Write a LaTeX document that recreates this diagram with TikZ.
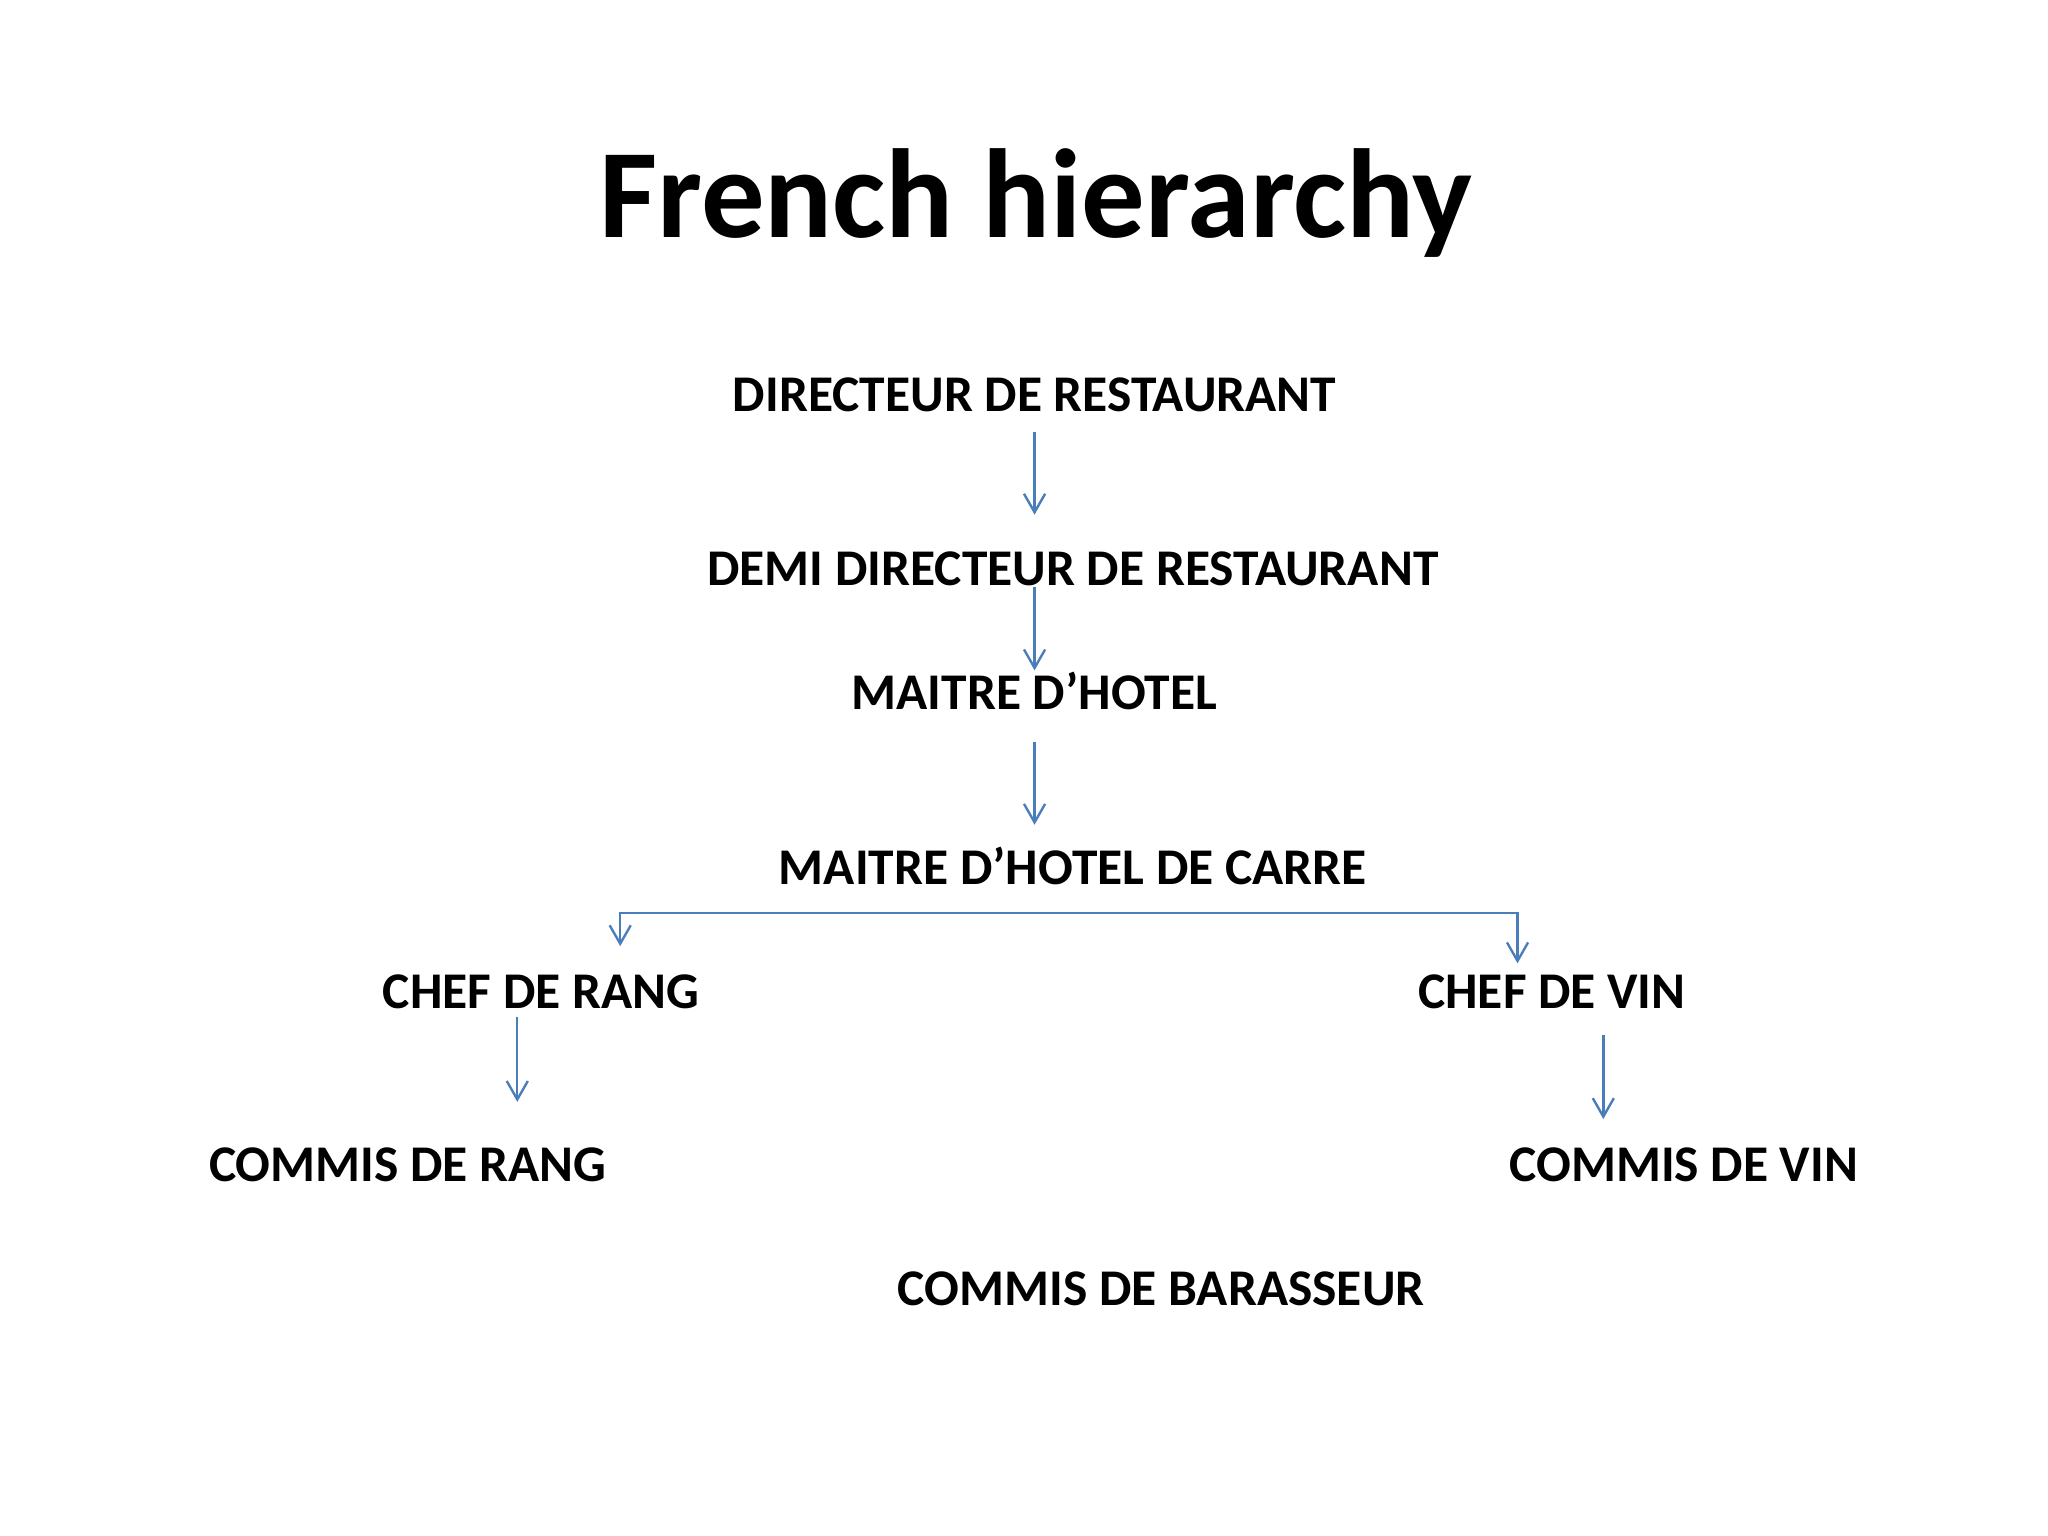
\documentclass[tikz,border=0pt]{standalone}
\usepackage{fontspec}
\setmainfont{Carlito}
\usetikzlibrary{arrows.meta}
\definecolor{conn}{HTML}{4A7EBB}
\begin{document}
\begin{tikzpicture}[x=1pt,y=-1pt,
  lbl/.style={anchor=base,inner sep=0pt,font=\fontsize{39}{46}\selectfont\bfseries},
  ttl/.style={anchor=base,inner sep=0pt,font=\fontsize{96}{106}\selectfont\bfseries},
  arr/.style={draw=conn,line width=1.8pt,-{Straight Barb[length=14pt,width=16pt,line width=1.8pt]}},
  arr2/.style={draw=conn,line width=1.8pt,{Straight Barb[length=14pt,width=16pt,line width=1.8pt]}-{Straight Barb[length=14pt,width=16pt,line width=1.8pt]}}]
\useasboundingbox[fill=white] (0,0) rectangle (1552,1164);
\node[ttl] (title) at (785,180) {French hierarchy};
\node[lbl] (dir) at (784,312) {DIRECTEUR DE RESTAURANT};
\node[lbl] (demi) at (813,444) {DEMI DIRECTEUR DE RESTAURANT};
\node[lbl] (mh) at (784,538) {MAITRE D’HOTEL};
\node[lbl] (mhc) at (813,670) {MAITRE D’HOTEL DE CARRE};
\node[lbl] (cdr) at (410,764) {CHEF DE RANG};
\node[lbl] (cdv) at (1176,764) {CHEF DE VIN};
\node[lbl] (cmr) at (309,895) {COMMIS DE RANG};
\node[lbl] (cmv) at (1276,895) {COMMIS DE VIN};
\node[lbl] (cmb) at (880,989) {COMMIS DE BARASSEUR};
\coordinate (a1s) at (784,327); \coordinate (a1e) at (784,390);
\coordinate (a2s) at (784,445); \coordinate (a2e) at (784,508);
\coordinate (a3s) at (784,562); \coordinate (a3e) at (784,625);
\coordinate (bl) at (470,717); \coordinate (blt) at (470,692);
\coordinate (brt) at (1150,692); \coordinate (br) at (1150,730);
\coordinate (a4s) at (392,771); \coordinate (a4e) at (392,835);
\coordinate (a5s) at (1215,784); \coordinate (a5e) at (1215,848);
\draw[arr] (a1s) -- (a1e);
\draw[arr] (a2s) -- (a2e);
\draw[arr] (a3s) -- (a3e);
\draw[arr2] (bl) -- (blt) -- (brt) -- (br);
\draw[arr] (a4s) -- (a4e);
\draw[arr] (a5s) -- (a5e);
\end{tikzpicture}
\end{document}
